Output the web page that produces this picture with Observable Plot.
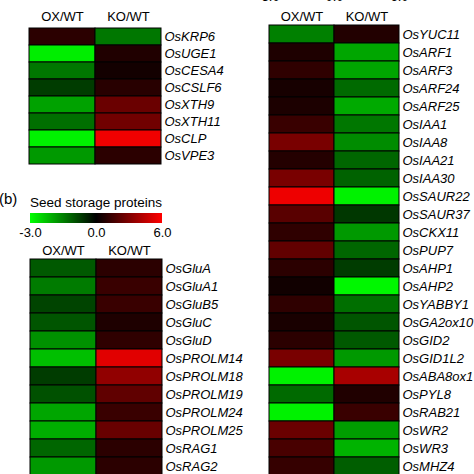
<!DOCTYPE html>
<html><head><meta charset="utf-8">
<script src="https://cdn.jsdelivr.net/npm/d3@7"></script>
<script src="https://cdn.jsdelivr.net/npm/@observablehq/plot@0.6"></script>
<style>
body{margin:0;background:#fff;}
#chart{position:relative;width:474px;height:474px;overflow:hidden;background:#fff;font-family:"Liberation Sans",Arial,sans-serif;color:#000;}
#chart > *{position:absolute;}
#chart svg[class$="-ramp"] text{font-size:13px;font-family:"Liberation Sans",Arial,sans-serif;font-weight:normal;fill:#000;}
#chart svg[class$="-ramp"] > text{font-size:13.5px;}
#chart svg[class$="-ramp"] .tick line{display:none;}
#tagb{font-size:15px;line-height:1;left:-1px;top:191px;}
</style></head><body><div id="chart"><div id="tagb">(b)</div></div>
<script>
const cols = ["OX/WT", "KO/WT"];

const genesA = ["OsKRP6","OsUGE1","OsCESA4","OsCSLF6","OsXTH9","OsXTH11","OsCLP","OsVPE3"];
const oxA = [1.0,-2.8,-1.4,-0.7,-1.9,-1.3,-2.85,-1.8];
const koA = [-1.4,0.75,0.45,0.95,2.5,2.65,5.65,1.0];

const genesB = ["OsGluA","OsGluA1","OsGluB5","OsGluC","OsGluD","OsPROLM14","OsPROLM18","OsPROLM19","OsPROLM24","OsPROLM25","OsRAG1","OsRAG2"];
const oxB = [-1.05,-1.45,-0.8,-1.0,-1.7,-2.25,-0.7,-0.95,-1.95,-2.05,-1.2,-1.8];
const koB = [1.0,1.35,1.35,0.7,1.1,5.3,3.4,2.25,1.35,2.45,1.0,1.0];

const genesC = ["OsYUC11","OsARF1","OsARF3","OsARF24","OsARF25","OsIAA1","OsIAA8","OsIAA21","OsIAA30","OsSAUR22","OsSAUR37","OsCKX11","OsPUP7","OsAHP1","OsAHP2","OsYABBY1","OsGA2ox10","OsGID2","OsGID1L2","OsABA8ox1","OsPYL8","OsRAB21","OsWR2","OsWR3","OsMHZ4"];
const oxC = [-1.5,0.7,1.1,0.55,0.65,1.35,2.85,0.85,2.85,5.6,2.1,1.1,2.3,1.0,0.4,1.1,0.6,1.0,2.85,-2.85,-1.25,-2.85,2.5,1.7,1.25];
const koC = [0.8,-1.95,-1.95,-1.25,-2.0,-1.4,-1.65,-1.2,-1.15,-2.85,-0.65,-1.8,-1.2,-0.7,-2.9,-1.3,-1.0,-1.05,-1.8,3.95,0.75,1.35,-1.85,-2.1,-1.1];

const legendTicks = [-3, 0, 6];
const legendTitle = "Seed storage proteins";

const colorScale = {type: "linear", domain: [-3, 0, 6], range: ["#00ff00", "#000000", "#ff0000"], clamp: true};
const FONT = '"Liberation Sans", Arial, sans-serif';

function table(genes, ox, ko) {
  return genes.flatMap((g, i) => [
    {gene: g, col: cols[0], value: ox[i]},
    {gene: g, col: cols[1], value: ko[i]}
  ]);
}

function heat(genes, ox, ko, {width, marginLeft, marginRight, rowH}) {
  return Plot.plot({
    width, height: 25 + genes.length * rowH,
    marginTop: 25, marginBottom: 0, marginLeft, marginRight,
    style: {background: "transparent", fontFamily: FONT, overflow: "visible", color: "#000"},
    x: {type: "band", domain: cols, padding: 0},
    y: {type: "band", domain: genes, padding: 0},
    color: colorScale,
    marks: [
      Plot.cell(table(genes, ox, ko), {x: "col", y: "gene", fill: "value", stroke: "#000", strokeWidth: 1}),
      Plot.axisX({anchor: "top", tickSize: 0, tickPadding: 5, fontSize: 13, label: null}),
      Plot.axisY({anchor: "right", tickSize: 0, tickPadding: 3, fontSize: 13, fontStyle: "italic", label: null})
    ]
  });
}

function place(el, left, top) {
  el.style.position = "absolute";
  el.style.left = left + "px";
  el.style.top = top + "px";
  document.getElementById("chart").appendChild(el);
}

const fmt = d => d.toFixed(1);

place(heat(genesA, oxA, koA, {width: 240, marginLeft: 29, marginRight: 79, rowH: 17.75}), 0, 0);
place(heat(genesB, oxB, koB, {width: 240, marginLeft: 30, marginRight: 78, rowH: 18}), 0, 234);
place(heat(genesC, oxC, koC, {width: 234, marginLeft: 28, marginRight: 75, rowH: 18}), 240, 0);

place(Plot.legend({color: colorScale, label: legendTitle, className: "lg", width: 240, height: 50, marginTop: 23, marginBottom: 17,
  marginLeft: 30, marginRight: 78, tickSize: 2, ticks: legendTicks, tickFormat: fmt, style: {background: "transparent"}}), 0, 190);
place(Plot.legend({color: colorScale, label: null, className: "lg", width: 234, height: 50, marginTop: 23, marginBottom: 17,
  marginLeft: 28, marginRight: 75, tickSize: 2, ticks: legendTicks, tickFormat: fmt, style: {background: "transparent"}}), 240, -46);
</script></body></html>
